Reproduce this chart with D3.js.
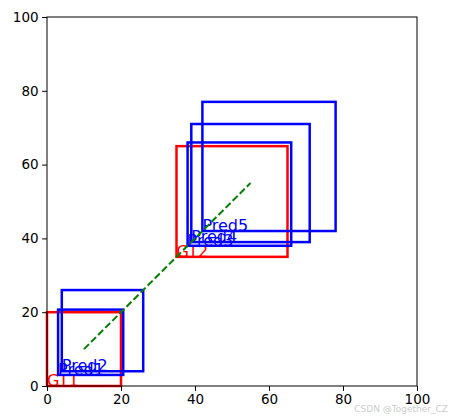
<!DOCTYPE html>
<html>
<head>
<meta charset="UTF-8">
<script src="https://d3js.org/d3.v7.min.js"></script>
<style>
  body { margin: 0; background: #fff; font-family: "DejaVu Sans", sans-serif; }
</style>
</head>
<body>
<svg id="chart" width="452" height="420"></svg>
<script>
  // boxes as [x1, y1, x2, y2]
  const gtNames = ["GT1", "GT2"];
  const gtBoxes = [[0, 0, 20, 20], [35, 35, 65, 65]];
  const predNames = ["Pred1", "Pred2", "Pred3", "Pred4", "Pred5"];
  const predBoxes = [[3, 3, 20.6, 20.7], [4, 4, 26, 26], [38, 38, 66, 66], [39, 39, 71, 71], [42, 42, 78, 77]];
  const lineX = [10, 55];
  const lineY = [10, 55];
  const ticks = [0, 20, 40, 60, 80, 100];

  const margin = { top: 17, right: 35, bottom: 34, left: 47 };
  const width = 452 - margin.left - margin.right;
  const height = 420 - margin.top - margin.bottom;

  const svg = d3.select("#chart");
  const g = svg.append("g").attr("transform", `translate(${margin.left},${margin.top})`);

  const x = d3.scaleLinear().domain([0, 100]).range([0, width]);
  const y = d3.scaleLinear().domain([0, 100]).range([height, 0]);

  function drawBoxes(boxes, names, color) {
    boxes.forEach((b, i) => {
      g.append("rect")
        .attr("x", x(b[0]))
        .attr("y", y(b[3]))
        .attr("width", x(b[2]) - x(b[0]))
        .attr("height", y(b[1]) - y(b[3]))
        .attr("fill", "none")
        .attr("stroke", color)
        .attr("stroke-width", 2.5);
      g.append("text")
        .attr("x", x(b[0]))
        .attr("y", y(b[1]))
        .attr("fill", color)
        .style("font-size", "16px")
        .text(names[i]);
    });
  }

  drawBoxes(gtBoxes, gtNames, "red");
  drawBoxes(predBoxes, predNames, "blue");

  g.append("line")
    .attr("x1", x(lineX[0])).attr("y1", y(lineY[0]))
    .attr("x2", x(lineX[1])).attr("y2", y(lineY[1]))
    .attr("stroke", "green")
    .attr("stroke-width", 2)
    .attr("stroke-dasharray", "7,3");

  const xAxis = g.append("g")
    .attr("transform", `translate(0,${height})`)
    .call(d3.axisBottom(x).tickValues(ticks).tickSize(4.9).tickPadding(3.5));
  const yAxis = g.append("g")
    .call(d3.axisLeft(y).tickValues(ticks).tickSize(4.9).tickPadding(3.5));
  [xAxis, yAxis].forEach(a => {
    a.select(".domain").remove();
    a.selectAll("text").style("font-size", "13.5px").style("font-family", "DejaVu Sans").attr("fill", "#000");
    a.selectAll("line").attr("stroke", "#000");
  });

  g.append("rect")
    .attr("width", width).attr("height", height)
    .attr("fill", "none").attr("stroke", "#000").attr("stroke-width", 1);

  svg.append("text")
    .attr("x", 448).attr("y", 412)
    .attr("text-anchor", "end")
    .attr("fill", "#ccc")
    .style("font-size", "9px")
    .text("CSDN @Together_CZ");
</script>
</body>
</html>
